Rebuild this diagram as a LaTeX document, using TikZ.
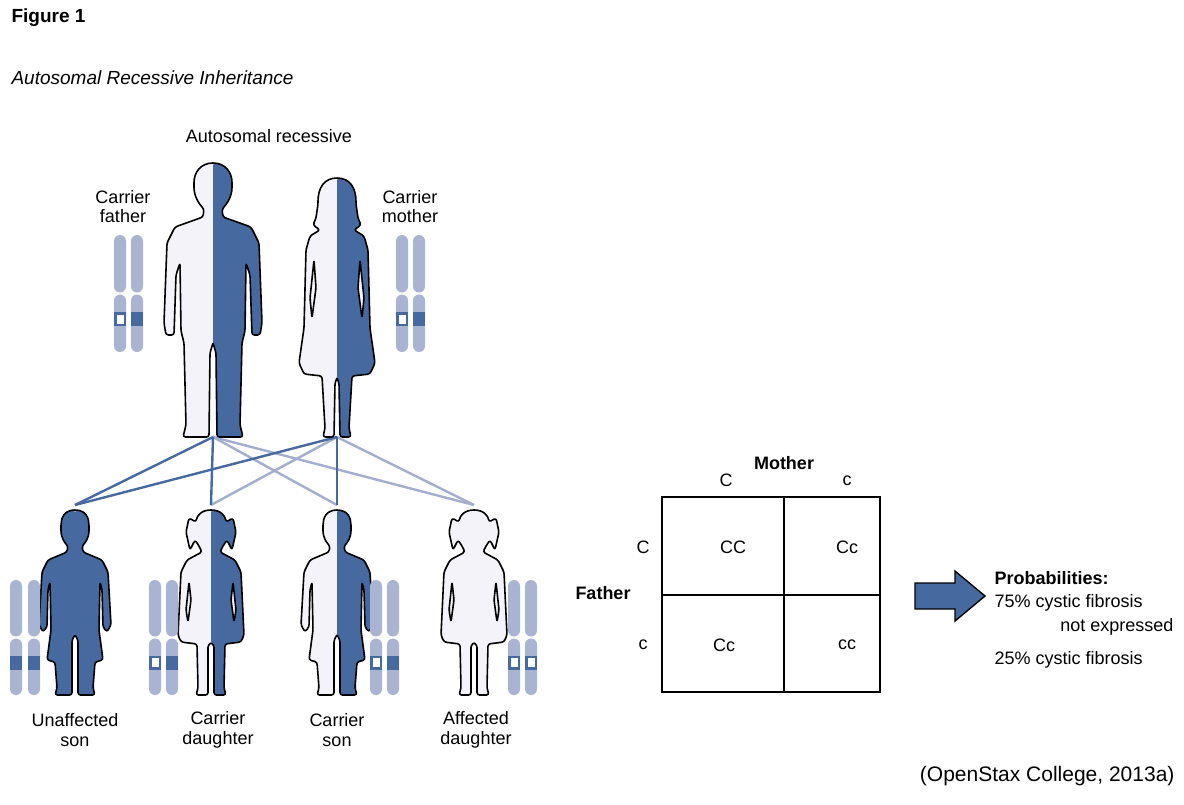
\documentclass[tikz,border=0pt]{standalone}
\usepackage{fontspec}
\setmainfont{Liberation Sans}
\definecolor{dk}{HTML}{46699F}
\definecolor{lt}{HTML}{F3F3F9}
\definecolor{ch}{HTML}{A9B3D2}
\definecolor{ln}{HTML}{A3AECF}
\tikzset{outl/.style={draw=black,line width=1.6pt,line join=round,rounded corners=2.5pt},
 fl/.style={rounded corners=2.5pt},
 txt/.style={font=\fontsize{18}{22}\selectfont,align=center},
 dl/.style={dk,line width=2.4pt},
 ll/.style={ln,line width=2.4pt}}
\def\manR{(0,0) .. controls (12,0) and (19,9) .. (19,22) .. controls (19,34) and (13,42) .. (9,46) -- (10,54) -- (38,64) -- (46,80) -- (49,160) -- (47,172) -- (39,172) -- (37,112) -- (33,100) -- (32,168) -- (29,180) -- (27,262) -- (30,274) -- (4,274) -- (3,190) -- (0,180)}
\def\womanR{(0,0) .. controls (13,0) and (19,10) .. (19,26) -- (21,40) -- (24,47) -- (17,52) -- (27,58) -- (31,72) -- (33,150) -- (38,185) -- (33,196) -- (15,198) -- (12,250) -- (14,259) -- (3,259) -- (2,205) -- (0,200)}
\def\womanS{(23,82) -- (27,120) -- (25,140) -- (21,110) -- cycle}
\def\boyR{(0,0) .. controls (11,0) and (14,8) .. (14,18) .. controls (14,28) and (10,33) .. (7,36) -- (8,42) -- (27,50) -- (33,62) -- (36,115) -- (32,122) -- (28,117) -- (27,80) -- (25,72) -- (24,120) -- (28,150) -- (20,152) -- (18,178) -- (20,185) -- (3,185) -- (3,130) -- (0,125)}
\def\girlR{(0,0) .. controls (10,0) and (14,6) .. (15,12) -- (22,8) -- (25,22) -- (21,40) -- (16,30) -- (12,36) -- (9,42) -- (24,50) -- (30,62) -- (33,125) -- (30,132) -- (14,134) -- (13,178) -- (15,185) -- (3,185) -- (3,135) -- (0,133)}
\def\girlS{(22,72) -- (25,100) -- (23,112) -- (20,90) -- cycle}
\def\noS{}
\newcommand\person[5]{%
\begin{scope}[shift={#1},xscale=-1]\fill[#3,fl] #2 -- cycle; \ifx#5\noS\else\filldraw[fill=lt,outl] #5;\fi\draw[outl] #2;\end{scope}
\begin{scope}[shift={#1}]\fill[#4,fl] #2 -- cycle; \ifx#5\noS\else\filldraw[fill=lt,outl] #5;\fi\draw[outl] #2;\end{scope}}
% chromosome: x center, y top, length, marker y, style (0 white,1 dark)
\newcommand\chrom[4]{%
\fill[ch,rounded corners=6pt] (#1-6,#2) rectangle (#1+6,#2+0.5*#3-1);
\fill[ch,rounded corners=6pt] (#1-6,#2+0.5*#3+1) rectangle (#1+6,#2+#3);
\ifnum#4=1 \fill[dk] (#1-6,#2+0.66*#3) rectangle (#1+6,#2+0.66*#3+14);
\else \fill[dk] (#1-6,#2+0.66*#3) rectangle (#1+6,#2+0.66*#3+14); \fill[white] (#1-3.5,#2+0.66*#3+2.5) rectangle (#1+3.5,#2+0.66*#3+11.5);\fi}
\begin{document}
\begin{tikzpicture}[x=1pt,y=-1pt]
\useasboundingbox (0,0) rectangle (1184,804);
\node[anchor=west,font=\bfseries\fontsize{19}{22}\selectfont] (fig) at (8,18) {Figure 1};
\node[anchor=west,font=\itshape\fontsize{19}{22}\selectfont] (ttl) at (8,78) {Autosomal Recessive Inheritance};
\node[txt] (ar) at (269,136) {Autosomal recessive};
\node[txt,text width=80pt] (cf) at (123,207) {Carrier\\[-3pt]father};
\node[txt,text width=80pt] (cm) at (410,207) {Carrier\\[-3pt]mother};
% lines
\coordinate (F) at (213,437); \coordinate (M) at (337,437);
\coordinate (k1) at (75,505); \coordinate (k2) at (211,505); \coordinate (k3) at (337,505); \coordinate (k4) at (474,505);
\draw[ll] (F) -- (k3); \draw[ll] (F) -- (k4); \draw[ll] (M) -- (k2); \draw[ll] (M) -- (k4);
\draw[dl] (F) -- (k1); \draw[dl] (F) -- (k2); \draw[dl] (M) -- (k1); \draw[dl] (M) -- (k3);
% parents
\person{(213,163)}{\manR}{lt}{dk}{\noS}
\person{(337,178)}{\womanR}{lt}{dk}{\womanS}
\chrom{120}{235}{117}{0}\chrom{137}{235}{117}{1}
\chrom{402}{235}{117}{0}\chrom{419}{235}{117}{1}
% children
\person{(75,510)}{\boyR}{dk}{dk}{\noS}
\person{(211,510)}{\girlR}{lt}{dk}{\girlS}
\person{(337,510)}{\boyR}{lt}{dk}{\noS}
\person{(474,510)}{\girlR}{lt}{lt}{\girlS}
\chrom{16}{580}{115}{1}\chrom{34}{580}{115}{1}
\chrom{155}{580}{115}{0}\chrom{172}{580}{115}{1}
\chrom{376}{580}{115}{0}\chrom{393}{580}{115}{1}
\chrom{514}{580}{115}{0}\chrom{531}{580}{115}{0}
\node[txt] (l1) at (75,730) {Unaffected\\[-2pt]son};
\node[txt] (l2) at (218,730) {Carrier\\[-2pt]daughter};
\node[txt] (l3) at (337,730) {Carrier\\[-2pt]son};
\node[txt] (l4) at (476,730) {Affected\\[-2pt]daughter};
% punnett
\draw[line width=1.6pt] (662,497) rectangle (880,692);
\draw[line width=1.4pt] (784,497) -- (784,692) (662,595) -- (880,595);
\node[txt,font=\bfseries\fontsize{18}{22}\selectfont] (mo) at (784,463) {Mother};
\node[txt] (mC) at (726,480) {C}; \node[txt] (mc) at (847,481) {c};
\node[txt,font=\bfseries\fontsize{18}{22}\selectfont] (fa) at (603,593) {Father};
\node[txt] (fC) at (643,547) {C}; \node[txt] (fc) at (643,645) {c};
\node[txt] (c11) at (733,547) {CC}; \node[txt] (c12) at (847,547) {Cc};
\node[txt] (c21) at (724,645) {Cc}; \node[txt] (c22) at (847,645) {cc};
\filldraw[fill=dk,draw=black,line width=1.4pt,line join=miter] (915,583) -- (955,583) -- (955,571) -- (985,596) -- (955,621) -- (955,609) -- (915,609) -- cycle;
\node[anchor=west,font=\bfseries\fontsize{18}{22}\selectfont] (pr) at (991,578) {Probabilities:};
\node[anchor=west,txt] (p1) at (991,603) {75\% cystic fibrosis};
\node[anchor=east,txt] (p2) at (1177,627) {not expressed};
\node[anchor=west,txt] (p3) at (991,660) {25\% cystic fibrosis};
\node[anchor=east,font=\fontsize{21}{24}\selectfont] (cit) at (1178,776) {(OpenStax College, 2013a)};
\end{tikzpicture}
\end{document}
